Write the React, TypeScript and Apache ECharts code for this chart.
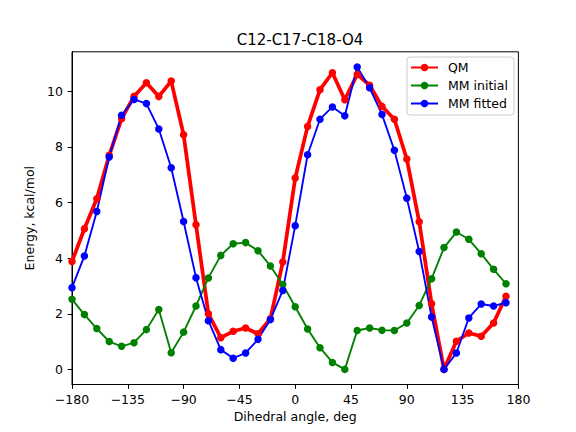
import React, { useEffect, useRef } from "react";
import * as echarts from "echarts";

const angles: number[] = [
  -180, -170, -160, -150, -140, -130, -120, -110, -100, -90, -80, -70, -60, -50, -40, -30, -20, -10,
  0, 10, 20, 30, 40, 50, 60, 70, 80, 90, 100, 110, 120, 130, 140, 150, 160, 170,
];

const qm: number[] = [
  3.88, 5.06, 6.14, 7.70, 9.02, 9.82, 10.31, 9.82, 10.37, 8.44, 5.20, 2.00, 1.14, 1.37, 1.49, 1.28, 1.82, 3.86,
  6.88, 8.74, 10.06, 10.67, 9.70, 10.61, 10.22, 9.46, 9.00, 7.57, 5.31, 2.36, 0.0, 1.01, 1.31, 1.19, 1.67, 2.63,
];

const mmInitial: number[] = [
  2.52, 1.97, 1.47, 1.00, 0.83, 0.96, 1.43, 2.15, 0.60, 1.34, 2.28, 3.29, 4.10, 4.52, 4.56, 4.27, 3.72, 3.05,
  2.25, 1.45, 0.78, 0.25, 0.0, 1.40, 1.49, 1.41, 1.40, 1.67, 2.30, 3.26, 4.38, 4.94, 4.68, 4.16, 3.60, 3.08,
];

const mmFitted: number[] = [
  2.94, 4.08, 5.68, 7.64, 9.14, 9.71, 9.56, 8.65, 7.25, 5.32, 3.30, 1.75, 0.71, 0.40, 0.59, 1.08, 1.79, 2.84,
  5.17, 7.72, 9.00, 9.44, 9.12, 10.88, 10.13, 9.17, 7.88, 6.16, 4.24, 1.88, 0.0, 0.59, 1.85, 2.35, 2.28, 2.40,
];

const xTicks: number[] = [-180, -135, -90, -45, 0, 45, 90, 135, 180];
const yTicks: number[] = [0, 2, 4, 6, 8, 10];

const FONT = "DejaVu Sans";

const pairs = (ys: number[]) => angles.map((a, i) => [a, ys[i]]);
const fmt = (v: number) => String(v).replace("-", "\u2212");

export default function App() {
  const ref = useRef<HTMLDivElement>(null);
  useEffect(() => {
    if (!ref.current) return;
    const chart = echarts.init(ref.current, undefined, { renderer: "svg" });
    const mk = (name: string, data: number[], color: string, width: number) => ({
      name,
      type: "line",
      data: pairs(data),
      symbol: "circle",
      symbolSize: 7.5,
      showSymbol: true,
      itemStyle: { color, borderColor: color, borderWidth: 0 },
      lineStyle: { color, width },
      emphasis: { disabled: true },
    });
    chart.setOption({
      animation: false,
      textStyle: { fontFamily: FONT, color: "#000" },
      title: {
        text: "C12-C17-C18-O4",
        left: 295,
        top: 27,
        textAlign: "center",
        textStyle: { fontFamily: FONT, fontSize: 15, fontWeight: "normal", color: "#000" },
      },
      legend: {
        orient: "vertical",
        left: 407,
        top: 57,
        padding: [4, 6, 5, 3],
        itemGap: 5,
        itemWidth: 27,
        itemHeight: 9.4,
        backgroundColor: "rgba(255,255,255,0.8)",
        borderColor: "#cccccc",
        borderWidth: 1,
        borderRadius: 3,
        textStyle: { fontFamily: FONT, fontSize: 12.5, color: "#000", padding: [0, 0, 0, 5] },
        data: ["QM", "MM initial", "MM fitted"],
      },
      grid: {
        left: 72,
        top: 51.8,
        width: 446.4,
        height: 332.7,
        show: true,
        borderColor: "#000",
        borderWidth: 1,
        backgroundColor: "#fff",
      },
      xAxis: {
        type: "value",
        min: -180,
        max: 180,
        interval: 45,
        name: "Dihedral angle, deg",
        nameLocation: "middle",
        nameGap: 23,
        nameTextStyle: { fontFamily: FONT, fontSize: 12.5, color: "#000" },
        axisLine: { show: true, onZero: false, lineStyle: { color: "#000", width: 1 } },
        axisTick: { show: true, inside: false, length: 4.4, lineStyle: { color: "#000", width: 1 } },
        axisLabel: {
          fontFamily: FONT,
          fontSize: 12.5,
          color: "#000",
          margin: 8,
          formatter: (v: number) => fmt(v),
          customValues: xTicks,
        },
        splitLine: { show: false },
      },
      yAxis: {
        type: "value",
        min: -0.544,
        max: 11.424,
        name: "Energy, kcal/mol",
        nameLocation: "middle",
        nameRotate: 90,
        nameGap: 30,
        nameTextStyle: { fontFamily: FONT, fontSize: 12.5, color: "#000" },
        axisLine: { show: true, onZero: false, lineStyle: { color: "#000", width: 1 } },
        axisTick: { show: true, inside: false, length: 4.4, lineStyle: { color: "#000", width: 1 }, customValues: yTicks },
        axisLabel: {
          fontFamily: FONT,
          fontSize: 12.5,
          color: "#000",
          margin: 9,
          formatter: (v: number) => fmt(v),
          customValues: yTicks,
        },
        splitLine: { show: false },
      },
      series: [
        mk("QM", qm, "#ff0000", 3.75),
        mk("MM initial", mmInitial, "#008000", 1.875),
        mk("MM fitted", mmFitted, "#0000ff", 1.875),
      ],
    });
    return () => chart.dispose();
  }, []);
  return (
    <div
      ref={ref}
      style={{ position: "fixed", left: 0, top: 0, width: 576, height: 432, background: "#fff" }}
    />
  );
}
